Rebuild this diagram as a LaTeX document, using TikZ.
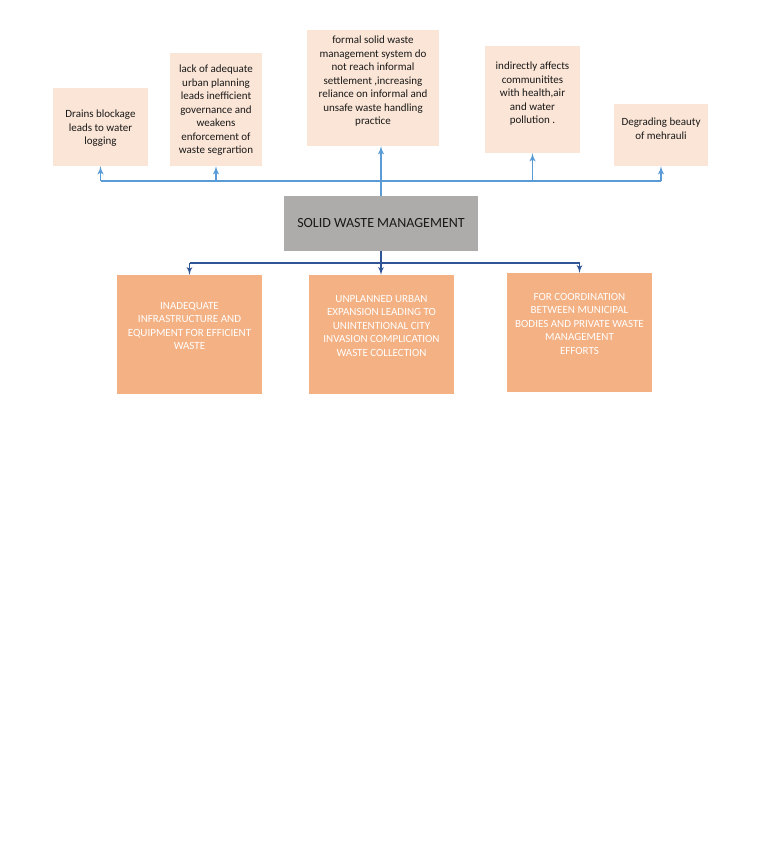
\documentclass[tikz,border=0pt]{standalone}
\usepackage{fontspec}
\setmainfont{Carlito}
\usetikzlibrary{positioning, arrows}

\definecolor{peachlight}{HTML}{FBE5D6}
\definecolor{peachdark}{HTML}{F4B183}
\definecolor{boxgray}{HTML}{AEABAB}
\definecolor{lineblue}{HTML}{5B9BD5}
\definecolor{darkblue}{HTML}{2F5597}

\begin{document}
\begin{tikzpicture}[x=1pt,y=-1pt]

\tikzset{effect/.style = {shape=rectangle,fill=peachlight,inner sep=0pt}}
\tikzset{cause/.style = {shape=rectangle,fill=peachdark,inner sep=0pt}}
\tikzset{toptext/.style = {align=center,inner sep=0pt,text=black!90,font=\fontsize{11}{13.5}\selectfont}}
\tikzset{lowtext/.style = {align=center,inner sep=0pt,text=white,font=\fontsize{11}{13.6}\selectfont}}
\tikzset{upedge/.style = {->,> = latex',draw=lineblue,line width=1.8pt}}
\tikzset{downedge/.style = {->,> = latex',draw=darkblue,line width=1.6pt}}

\useasboundingbox (0,0) rectangle (768,866);

%effects
\node[effect, minimum width=95pt, minimum height=78pt] (e1) at (100.5,127) {};
\node[effect, minimum width=92pt, minimum height=113pt] (e2) at (216,109.5) {};
\node[effect, minimum width=132pt, minimum height=116pt] (e3) at (373,88) {};
\node[effect, minimum width=95pt, minimum height=107pt] (e4) at (532.5,99.5) {};
\node[effect, minimum width=94pt, minimum height=62pt] (e5) at (661,135) {};
\node[toptext, below=22pt of e1.north] {Drains blockage\\leads to water\\logging};
\node[toptext, below=12pt of e2.north] {lack of adequate\\urban planning\\leads inefficient\\governance and\\weakens\\enforcement of\\waste segrartion};
\node[toptext, below=6pt of e3.north] {formal solid waste\\management system do\\not reach informal\\settlement ,increasing\\reliance on informal and\\unsafe waste handling\\practice};
\node[toptext, below=16pt of e4.north] {indirectly affects\\communitites\\with health,air\\and water\\pollution .};
\node[toptext, below=14pt of e5.north] {Degrading beauty\\of mehrauli};

%centre
\node[shape=rectangle, fill=boxgray, minimum width=194pt, minimum height=55pt, text=black!90, font=\fontsize{14}{16}\selectfont] (swm) at (381,223.5) {SOLID WASTE MANAGEMENT};

%causes
\node[cause, minimum width=145pt, minimum height=119pt] (c1) at (189.5,334.5) {};
\node[cause, minimum width=145pt, minimum height=119pt] (c2) at (381.5,334.5) {};
\node[cause, minimum width=145pt, minimum height=119pt] (c3) at (579.5,332.5) {};
\node[lowtext, below=27pt of c1.north] {INADEQUATE\\INFRASTRUCTURE AND\\EQUIPMENT FOR EFFICIENT\\WASTE};
\node[lowtext, below=20pt of c2.north] {UNPLANNED URBAN\\EXPANSION LEADING TO\\UNINTENTIONAL CITY\\INVASION COMPLICATION\\WASTE COLLECTION};
\node[lowtext, below=20pt of c3.north] {FOR COORDINATION\\BETWEEN MUNICIPAL\\BODIES AND PRIVATE WASTE\\MANAGEMENT\\EFFORTS};

%edges
\coordinate (up) at (381,181);
\coordinate (down) at (381,263);
\draw[draw=lineblue, line width=1.8pt] (e1.south |- up) -- (e5.south |- up);
\draw[upedge] (swm.north) -- (swm.north |- e3.south);
\draw[upedge] (e1.south |- up) -- (e1.south);
\draw[upedge] (e2.south |- up) -- (e2.south);
\draw[upedge] (e4.south |- up) -- (e4.south);
\draw[upedge] (e5.south |- up) -- (e5.south);
\draw[draw=darkblue, line width=1.6pt] (c1.north |- down) -- (c3.north |- down);
\draw[downedge] (swm.south) -- (swm.south |- c2.north);
\draw[downedge] (c1.north |- down) -- (c1.north);
\draw[downedge] (c3.north |- down) -- (c3.north);
\end{tikzpicture}
\end{document}
